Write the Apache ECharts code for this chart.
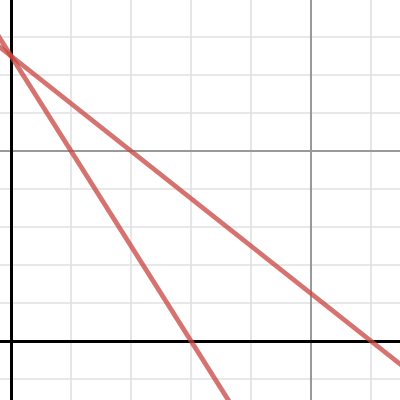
<!DOCTYPE html>
<html>
<head>
<meta charset="utf-8">
<script src="https://cdn.jsdelivr.net/npm/echarts@6/dist/echarts.min.js"></script>
<style>
html,body{margin:0;padding:0;background:#fff;}
#chart{width:400px;height:400px;}
</style>
</head>
<body>
<div id="chart"></div>
<script>
// View window (data units)
const xRange = [-0.1833, 6.4833];
const yRange = [-1.553, 8.974];

// Grid lines
const minorX = [1, 2, 3, 4, 6];
const minorY = [-1, 1, 2, 3, 4, 6, 7, 8];
const majorX = [5];
const majorY = [5];
const axisX = [0];
const axisY = [0];

// Plotted lines
const line1 = [[-1, 8.75], [8, -2.5]];
const line2 = [[-1, 10], [4, -2.5]];

const vLines = v => v.map(x => ({ xAxis: x }));
const hLines = v => v.map(y => ({ yAxis: y }));

function gridSeries(xs, ys, color, width, z) {
  return {
    type: 'line',
    data: [],
    z: z,
    silent: true,
    markLine: {
      silent: true,
      symbol: ['none', 'none'],
      animation: false,
      label: { show: false },
      emphasis: { disabled: true },
      lineStyle: { color: color, width: width, type: 'solid' },
      data: vLines(xs).concat(hLines(ys))
    }
  };
}

function curve(pts) {
  return {
    type: 'line',
    data: pts,
    z: 5,
    symbol: 'none',
    silent: true,
    clip: true,
    lineStyle: { color: '#c74440', width: 4.8, opacity: 0.75 }
  };
}

const chart = echarts.init(document.getElementById('chart'));
chart.setOption({
  animation: false,
  backgroundColor: '#ffffff',
  grid: { left: 0, right: 0, top: 0, bottom: 0, containLabel: false },
  xAxis: {
    type: 'value', min: xRange[0], max: xRange[1],
    axisLine: { show: false }, axisTick: { show: false },
    axisLabel: { show: false }, splitLine: { show: false }
  },
  yAxis: {
    type: 'value', min: yRange[0], max: yRange[1],
    axisLine: { show: false }, axisTick: { show: false },
    axisLabel: { show: false }, splitLine: { show: false }
  },
  series: [
    gridSeries(minorX, minorY, '#e0e0e0', 1.6, 1),
    gridSeries(majorX, majorY, '#999999', 2, 2),
    gridSeries(axisX, axisY, '#000000', 3, 3),
    curve(line1),
    curve(line2)
  ]
});
</script>
</body>
</html>
